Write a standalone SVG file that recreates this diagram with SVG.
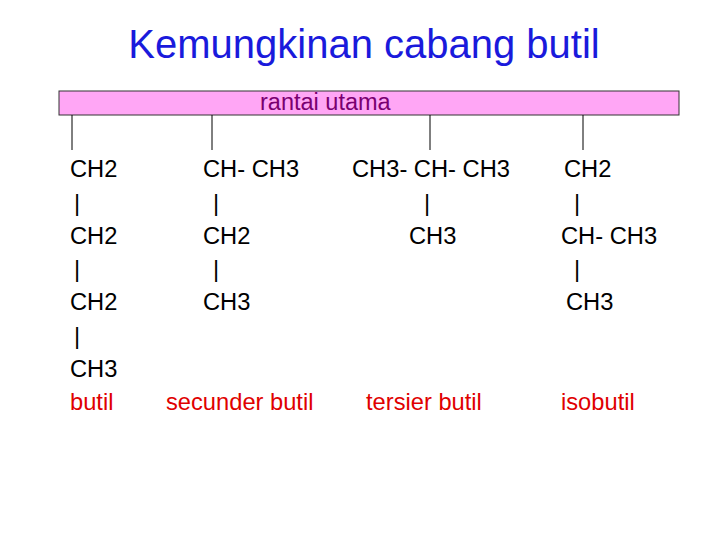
<svg xmlns="http://www.w3.org/2000/svg" width="728" height="546" viewBox="0 0 728 546">
<style>
text{font-family:"Liberation Sans",Arial,sans-serif;font-size:23.7px;fill:#000}
.r{fill:#e00000}
line{stroke:#000;stroke-width:1}
</style>
<rect width="728" height="546" fill="#fff"/>
<text x="364" y="58" text-anchor="middle" style="font-size:40px;fill:#1a1adc">Kemungkinan cabang butil</text>
<g id="bar"><rect x="59" y="91" width="620" height="24" fill="#ffa6f5" stroke="#333"/>
<text x="260" y="110" style="fill:#7a0070;font-size:23.5px">rantai utama</text></g>
<g id="connectors">
<line x1="72" y1="115" x2="72" y2="150"/>
<line x1="212" y1="115" x2="212" y2="150"/>
<line x1="430" y1="115" x2="430" y2="150"/>
<line x1="583" y1="115" x2="583" y2="150"/>
</g>
<g id="butil">
<text x="70" y="177">CH2</text><text x="74" y="211">|</text>
<text x="70" y="244">CH2</text><text x="74" y="277">|</text>
<text x="70" y="310">CH2</text><text x="74" y="344">|</text>
<text x="70" y="377">CH3</text><text x="70" y="410" class="r">butil</text>
</g>
<g id="secunder">
<text x="203" y="177">CH- CH3</text><text x="213" y="211">|</text>
<text x="203" y="244">CH2</text><text x="213" y="277">|</text>
<text x="203" y="310">CH3</text>
<text x="166" y="410" class="r">secunder butil</text>
</g>
<g id="tersier">
<text x="352" y="177">CH3- CH- CH3</text><text x="424" y="211">|</text>
<text x="409" y="244">CH3</text>
<text x="366" y="410" class="r">tersier butil</text>
</g>
<g id="isobutil">
<text x="564" y="177">CH2</text><text x="574" y="211">|</text>
<text x="561" y="244">CH- CH3</text><text x="574" y="277">|</text>
<text x="566" y="310">CH3</text>
<text x="561" y="410" class="r">isobutil</text>
</g>
</svg>
